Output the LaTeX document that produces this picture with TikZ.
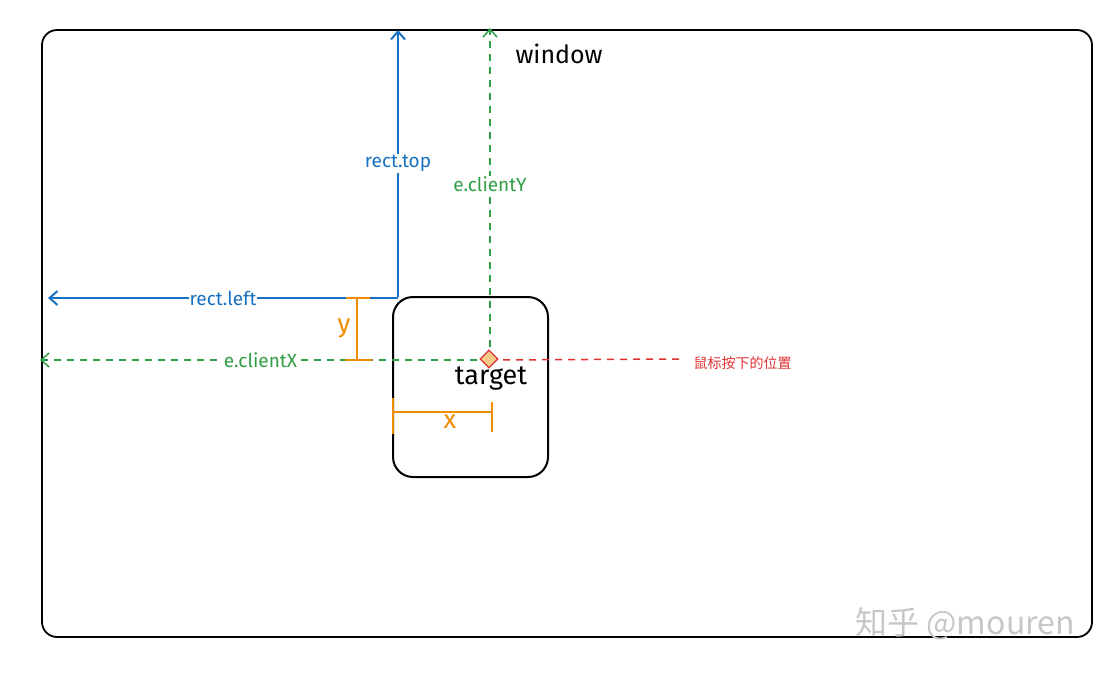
\documentclass[tikz,border=0pt]{standalone}
\usepackage{fontspec}
\setmainfont{Fira Sans}
\newfontfamily\cjk{Noto Sans CJK SC}
\usetikzlibrary{shapes.geometric,arrows.meta}
\definecolor{bl}{HTML}{1971C2}
\definecolor{gr}{HTML}{2F9E44}
\definecolor{rd}{HTML}{E03131}
\definecolor{og}{HTML}{F08C00}
\begin{document}
\begin{tikzpicture}[x=1pt,y=-1pt,
  blue line/.style={bl,line width=2pt,-{Straight Barb[length=8pt,width=14pt]}},
  green line/.style={gr,line width=1.5pt,dash pattern=on 7pt off 6pt,-{Straight Barb[length=8pt,width=14pt]}},
  lab/.style={fill=white,inner sep=1pt,font=\fontsize{19}{20}\selectfont},
  orange/.style={og,line width=2pt}]
\useasboundingbox (0,0) rectangle (1119,673);
\node[draw,line width=1.8pt,rounded corners=15pt,minimum width=1050pt,minimum height=607pt,inner sep=0] (win) at (567,333.5) {};
\node[draw,line width=2pt,rounded corners=20pt,minimum width=155pt,minimum height=180pt,inner sep=0] (tgt) at (470.5,387) {};
\coordinate (bo) at (398,297);
\coordinate (btop) at (398,30);
\coordinate (bleft) at (48,298);
\coordinate (go) at (490,360);
\coordinate (gtop) at (490,28);
\coordinate (gleft) at (40,360);
\coordinate (rend) at (680,359);
\draw[blue line] (bo) -- node[lab,text=bl,pos=0.5] (rt) {rect.top} (btop);
\draw[blue line] (bo|-bleft) -- node[lab,text=bl,pos=0.5] (rl) {rect.left} (bleft);
\draw[green line] (go) -- node[lab,text=gr,pos=0.53] (cy) {e.clientY} (gtop);
\draw[green line] (go) -- node[lab,text=gr,pos=0.51] (cx) {e.clientX} (gleft);
\draw[rd,line width=1.5pt,dash pattern=on 7pt off 6pt] (go) -- (rend);
\node[anchor=west,text=rd,font=\cjk\fontsize{14}{16}\selectfont] (lbl) at (690,363) {鼠标按下的位置};
\node[diamond,draw=rd,fill=og!45,line width=1.2pt,minimum size=18pt,inner sep=0] (dm) at (489,359) {};
\node[font=\fontsize{27}{28}\selectfont] (tt) at (491,378) {target};
\node[font=\fontsize{25}{26}\selectfont,anchor=west] (wt) at (512,54) {window};
% y bracket
\coordinate (ya) at (357,298); \coordinate (yb) at (357,360);
\draw[orange] (ya) -- (yb);
\draw[orange] (346,298) -- (370,298);
\draw[orange] (345,360) -- (372,360);
\node[text=og,font=\fontsize{26}{28}\selectfont] (yl) at (344,328) {y};
\draw[orange] (393,412) -- (492,412);
\draw[orange] (393,398) -- (393,434);
\draw[orange] (492,402) -- (492,432);
\node[text=og,font=\fontsize{26}{28}\selectfont] (xl) at (450,422) {x};
\node[text=black!22,font=\cjk\fontsize{32}{34}\selectfont,anchor=west] (wm) at (852,624) {知乎 @mouren};
\end{tikzpicture}
\end{document}
